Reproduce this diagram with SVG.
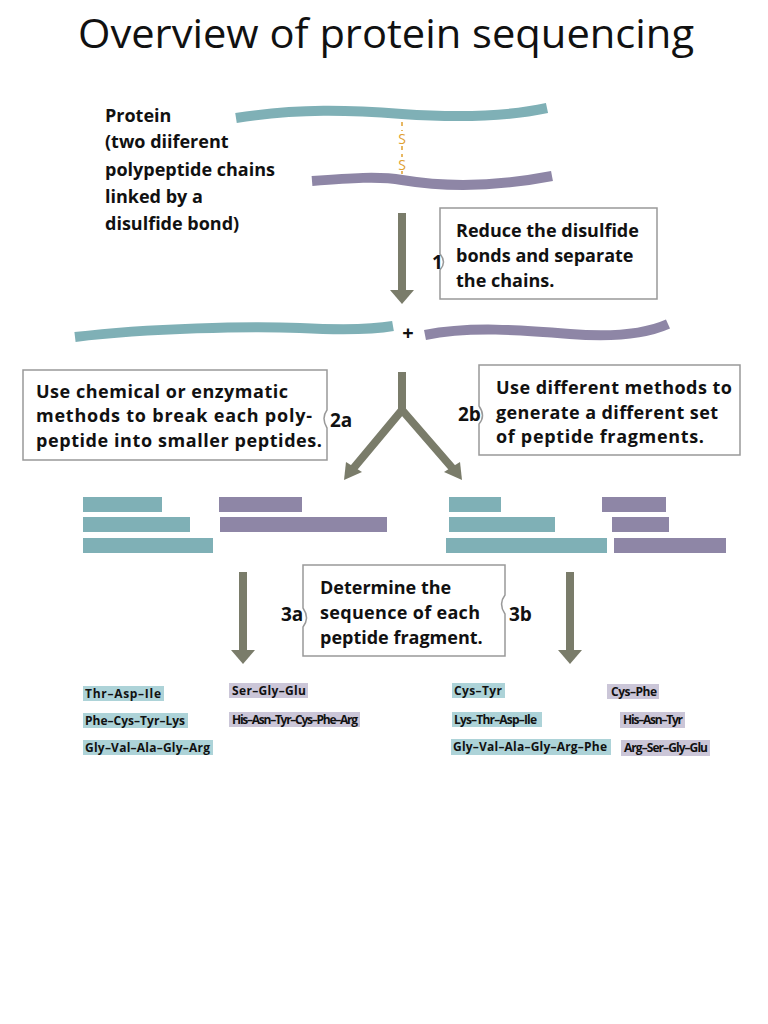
<svg xmlns="http://www.w3.org/2000/svg" width="768" height="1024" viewBox="0 0 768 1024">
<defs>
<style>
text{font-family:"Open Sans","Liberation Sans",sans-serif;font-weight:bold;fill:#111}
.t{font-size:18px}
.n{font-size:19px}
.p{font-size:12px}
.box{fill:#fff;stroke:#999;stroke-width:1.5}
.tc{fill:none;stroke:#7fb0b6;stroke-width:10;stroke-linecap:butt}
.pc{fill:none;stroke:#8e86a6;stroke-width:10;stroke-linecap:butt}
.tb{fill:#7fb0b6}.pb{fill:#8e86a6}
.tl{fill:#add3d8}.pl{fill:#cbc6d8}
.ar{fill:none;stroke:#7a7c6a;stroke-width:8}
.ah{fill:#7a7c6a}
</style>
</defs>
<rect width="768" height="1024" fill="#fff"/>
<text x="386" y="48" text-anchor="middle" style="font-family:'Open Sans','Liberation Sans',sans-serif;font-weight:normal;font-size:41px" textLength="616" lengthAdjust="spacingAndGlyphs">Overview of protein sequencing</text>

<g id="protein">
<text class="t" x="105" y="122">Protein</text>
<text class="t" x="105" y="148">(two diiferent</text>
<text class="t" x="105" y="176">polypeptide chains</text>
<text class="t" x="105" y="203">linked by a</text>
<text class="t" x="105" y="230">disulfide bond)</text>
<path class="tc" d="M236,118 C300,108 350,110 402,114 C460,118 510,116 547,108"/>
<path class="pc" d="M312,181 C350,178 380,176 402,180 C450,188 500,186 552,176"/>
<line x1="402" y1="122" x2="402" y2="176" stroke="#e0a030" stroke-width="1.5" stroke-dasharray="4,4"/>
<rect x="396" y="131" width="12" height="14" fill="#fff"/>
<rect x="396" y="157" width="12" height="14" fill="#fff"/>
<text x="402" y="144" text-anchor="middle" style="font-size:14px;fill:#e0a030;font-weight:normal">S</text>
<text x="402" y="170" text-anchor="middle" style="font-size:14px;fill:#e0a030;font-weight:normal">S</text>
</g>

<g id="connectors">
<line class="ar" x1="402" y1="213" x2="402" y2="292"/>
<polygon class="ah" points="390,290 414,290 402,304"/>
<path class="ar" d="M402,372 V410 L352,470 M402,410 L454,470"/>
<polygon class="ah" points="344,480 346,462 362,472"/>
<polygon class="ah" points="462,480 460,462 444,472"/>
<line class="ar" x1="243" y1="572" x2="243" y2="652"/>
<polygon class="ah" points="231,650 255,650 243,664"/>
<line class="ar" x1="570" y1="572" x2="570" y2="652"/>
<polygon class="ah" points="558,650 582,650 570,664"/>
</g>

<g id="step1">
<path class="box" d="M440,208 H657 V299 H440 V270 Q447,262 440,254 Z"/>
<text class="n" x="432" y="269">1</text>
<text class="t" x="456" y="237">Reduce the disulfide</text>
<text class="t" x="456" y="262">bonds and separate</text>
<text class="t" x="456" y="287">the chains.</text>
</g>

<g id="separated">
<path class="tc" d="M75,337 C150,328 250,326 300,328 C340,330 370,330 393,326"/>
<text x="408" y="340" text-anchor="middle" style="font-size:20px">+</text>
<path class="pc" d="M425,335 C470,326 520,330 570,334 C620,338 650,332 668,324"/>
</g>

<g id="step2a">
<path class="box" d="M23,370 H327 V410 Q321,418 327,428 V460 H23 Z"/>
<text class="n" x="330" y="427">2a</text>
<text class="t" x="36" y="398" textLength="252">Use chemical or enzymatic</text>
<text class="t" x="36" y="422" textLength="276">methods to break each poly-</text>
<text class="t" x="36" y="447" textLength="286">peptide into smaller peptides.</text>
</g>

<g id="step2b">
<path class="box" d="M479,365 H740 V455 H479 V424 Q486,416 479,406 Z"/>
<text class="n" x="458" y="421">2b</text>
<text class="t" x="496" y="394" textLength="236">Use different methods to</text>
<text class="t" x="496" y="419" textLength="222">generate a different set</text>
<text class="t" x="496" y="443" textLength="208">of peptide fragments.</text>
</g>

<g id="fragments">
<rect class="tb" x="83" y="497" width="79" height="15"/>
<rect class="tb" x="83" y="517" width="107" height="15"/>
<rect class="tb" x="83" y="538" width="130" height="15"/>
<rect class="pb" x="219" y="497" width="83" height="15"/>
<rect class="pb" x="220" y="517" width="167" height="15"/>
<rect class="tb" x="449" y="497" width="52" height="15"/>
<rect class="tb" x="449" y="517" width="106" height="15"/>
<rect class="tb" x="446" y="538" width="161" height="15"/>
<rect class="pb" x="602" y="497" width="64" height="15"/>
<rect class="pb" x="612" y="517" width="57" height="15"/>
<rect class="pb" x="614" y="538" width="112" height="15"/>
</g>

<g id="step3">
<path class="box" d="M303,565 H505 V595 Q498,604 505,614 V656 H303 V627 Q310,618 303,608 Z"/>
<text class="n" x="281" y="621">3a</text>
<text class="n" x="509" y="621">3b</text>
<text class="t" x="320" y="594">Determine the</text>
<text class="t" x="320" y="619" textLength="160">sequence of each</text>
<text class="t" x="320" y="644">peptide fragment.</text>
</g>

<g id="sequences">
<rect class="tl" x="83" y="686" width="81" height="15"/>
<text class="p" x="85" y="698" textLength="76">Thr–Asp–Ile</text>
<rect class="tl" x="83" y="713" width="105" height="15"/>
<text class="p" x="85" y="725" textLength="100">Phe–Cys–Tyr–Lys</text>
<rect class="tl" x="83" y="740" width="130" height="15"/>
<text class="p" x="85" y="752" textLength="125">Gly–Val–Ala–Gly–Arg</text>
<rect class="pl" x="229" y="683" width="79" height="15"/>
<text class="p" x="232" y="695" textLength="74">Ser–Gly–Glu</text>
<rect class="pl" x="229" y="712" width="131" height="15"/>
<text class="p" x="232" y="724" textLength="126">His–Asn–Tyr–Cys–Phe–Arg</text>
<rect class="tl" x="452" y="683" width="53" height="15"/>
<text class="p" x="454" y="695" textLength="48">Cys–Tyr</text>
<rect class="tl" x="452" y="712" width="90" height="15"/>
<text class="p" x="454" y="724" textLength="83">Lys–Thr–Asp–Ile</text>
<rect class="tl" x="451" y="739" width="160" height="16"/>
<text class="p" x="453" y="751" textLength="154">Gly–Val–Ala–Gly–Arg–Phe</text>
<rect class="pl" x="607" y="684" width="52" height="15"/>
<text class="p" x="611" y="696" textLength="46">Cys–Phe</text>
<rect class="pl" x="620" y="712" width="65" height="16"/>
<text class="p" x="623" y="724" textLength="60">His–Asn–Tyr</text>
<rect class="pl" x="621" y="740" width="89" height="16"/>
<text class="p" x="624" y="752" textLength="84">Arg–Ser–Gly–Glu</text>
</g>
</svg>
